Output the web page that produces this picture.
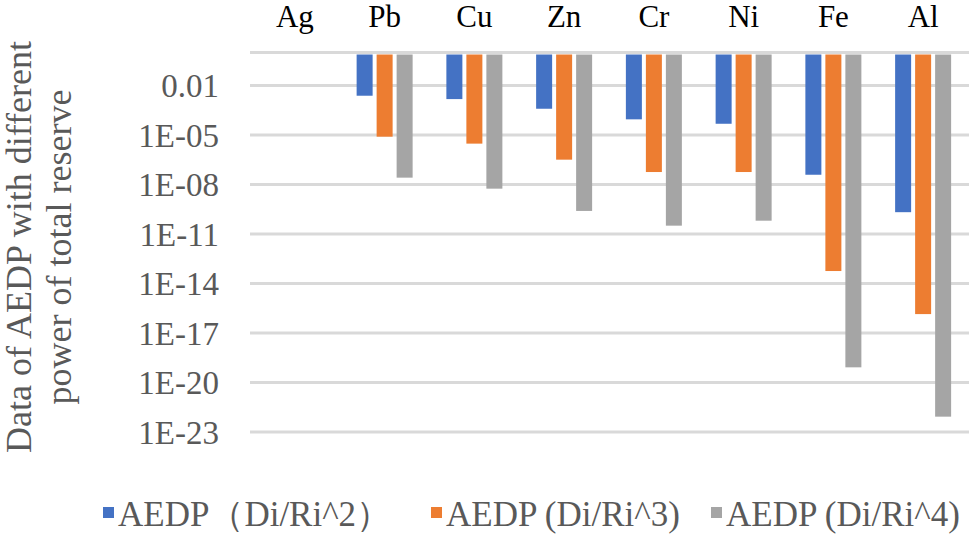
<!DOCTYPE html>
<html>
<head>
<meta charset="utf-8">
<script src="https://cdn.jsdelivr.net/npm/d3@7"></script>
<style>
  body { margin: 0; background: #fff; }
</style>
</head>
<body>
<svg id="chart"></svg>
<script>
// Data
const metals = ["Ag", "Pb", "Cu", "Zn", "Cr", "Ni", "Fe", "Al"];
const seriesNames = ["AEDP（Di/Ri^2）", "AEDP (Di/Ri^3)", "AEDP (Di/Ri^4)"];
const di2 = [null, 2.4e-3, 1.5e-3, 3.9e-4, 8.9e-5, 4.8e-5, 3.9e-8, 2.1e-10];
const di3 = [null, 7.9e-6, 3.0e-6, 3.2e-7, 5.7e-8, 5.7e-8, 5.7e-14, 1.4e-16];
const di4 = [null, 2.6e-8, 5.6e-9, 2.5e-10, 3.2e-11, 6.4e-11, 8.3e-20, 8.5e-23];
const tickValues = [1e-2, 1e-5, 1e-8, 1e-11, 1e-14, 1e-17, 1e-20, 1e-23];
const tickLabels = ["0.01", "1E-05", "1E-08", "1E-11", "1E-14", "1E-17", "1E-20", "1E-23"];

const colors = ["#4472C4", "#ED7D31", "#A5A5A5"];
const allSeries = [di2, di3, di4];
const serif = "'Liberation Serif', 'Times New Roman', serif";

const width = 969;
const height = 540;
const margin = { top: 52.5, right: 1, bottom: 108, left: 250 };

const svg = d3
  .select("#chart")
  .attr("width", width)
  .attr("height", height)
  .attr("font-family", serif);

// Scales
const x = d3
  .scaleBand()
  .domain(metals)
  .range([margin.left, width - margin.right]);

const xSub = d3
  .scaleBand()
  .domain(d3.range(3))
  .range([0, 56])
  .paddingInner(0.2);

const y = d3
  .scaleLog()
  .domain([1e-23, 1])
  .range([height - margin.bottom, margin.top]);

// Gridlines (top line at 1 acts as the category axis)
svg
  .append("g")
  .selectAll("line")
  .data([1].concat(tickValues))
  .join("line")
  .attr("x1", margin.left)
  .attr("x2", width)
  .attr("y1", (d) => y(d))
  .attr("y2", (d) => y(d))
  .attr("stroke", "#D9D9D9")
  .attr("stroke-width", 3);

// Y tick labels
svg
  .append("g")
  .selectAll("text")
  .data(tickValues)
  .join("text")
  .attr("x", 219)
  .attr("y", (d) => y(d))
  .attr("dy", "0.35em")
  .attr("text-anchor", "end")
  .attr("fill", "#595959")
  .attr("font-family", serif)
  .attr("font-size", 33)
  .text((d, i) => tickLabels[i]);

// Category labels on top
svg
  .append("g")
  .selectAll("text")
  .data(metals)
  .join("text")
  .attr("x", (d) => x(d) + x.bandwidth() / 2)
  .attr("y", 27)
  .attr("text-anchor", "middle")
  .attr("fill", "#000")
  .attr("font-family", serif)
  .attr("font-size", 31)
  .text((d) => d);

// Bars hang down from 1
const groups = svg
  .append("g")
  .selectAll("g")
  .data(metals)
  .join("g")
  .attr("transform", (d) => `translate(${x(d) + x.bandwidth() / 2 - 28},0)`);

groups
  .selectAll("rect")
  .data((d, i) =>
    allSeries.map((s, k) => ({ k: k, v: s[i] })).filter((e) => e.v != null)
  )
  .join("rect")
  .attr("x", (d) => xSub(d.k))
  .attr("width", xSub.bandwidth())
  .attr("y", y(1) + 2)
  .attr("height", (d) => y(d.v) - y(1) - 2)
  .attr("fill", (d) => colors[d.k]);

// Y axis title, two lines
const title = svg
  .append("text")
  .attr("transform", "translate(0,247) rotate(-90)")
  .attr("text-anchor", "middle")
  .attr("fill", "#595959")
  .attr("font-family", serif)
  .attr("font-size", 36);
title.append("tspan").attr("x", 0).attr("y", 31).text("Data of AEDP with different");
title.append("tspan").attr("x", 0).attr("y", 71).text("power of total reserve");

// Legend
const legendX = [103, 431, 711];
const legend = svg
  .append("g")
  .selectAll("g")
  .data(seriesNames)
  .join("g")
  .attr("transform", (d, i) => `translate(${legendX[i]},526)`);

legend
  .append("rect")
  .attr("y", -19)
  .attr("width", 11)
  .attr("height", 11)
  .attr("fill", (d, i) => colors[i]);

legend
  .append("text")
  .attr("x", 15)
  .attr("fill", "#595959")
  .attr("font-family", serif)
  .attr("font-size", 35)
  .text((d) => d);
</script>
</body>
</html>
